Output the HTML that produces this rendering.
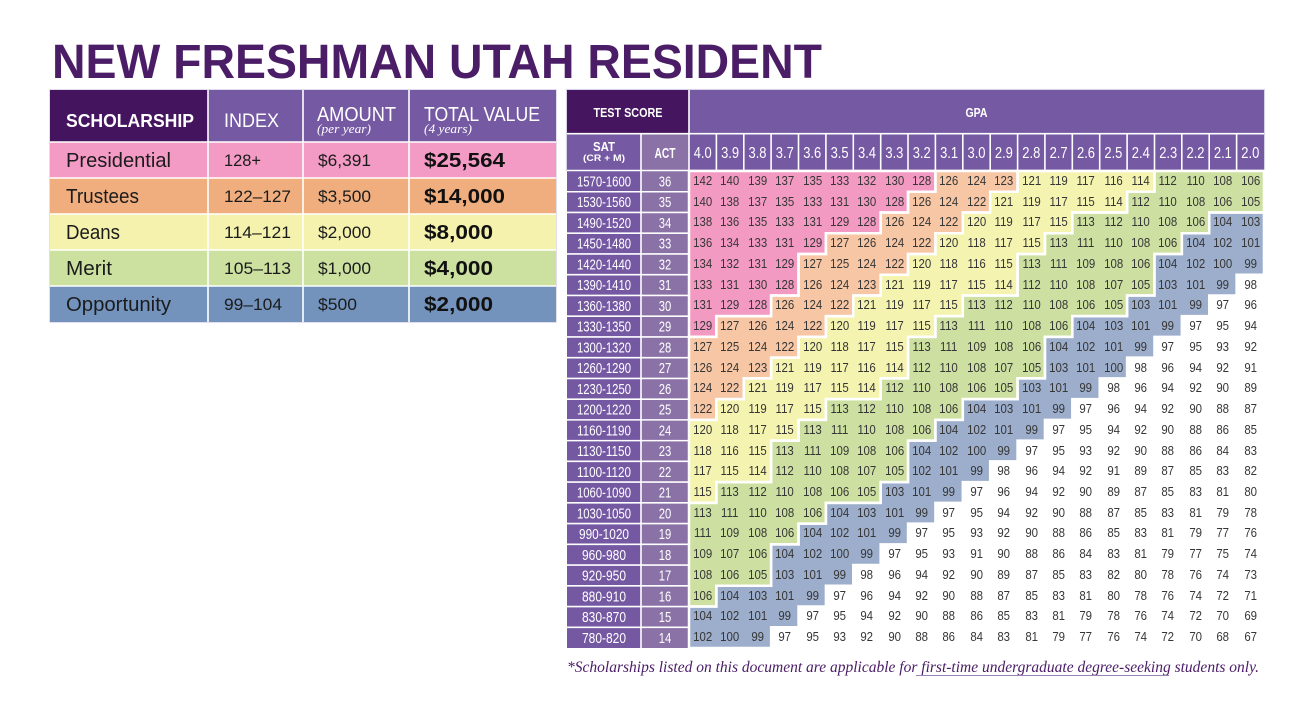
<!DOCTYPE html>
<html><head><meta charset="utf-8">
<style>
html,body{margin:0;padding:0;background:#fff;}
body{width:1313px;height:712px;overflow:hidden;position:relative;}
svg{position:absolute;left:0;top:0;}
.g{position:absolute;left:689px;top:171px;width:575px;display:grid;grid-template-columns:repeat(21,27.38px);grid-auto-rows:20.74px;font-family:"Liberation Sans",sans-serif;font-size:13px;line-height:20.74px;color:#363636;text-align:center;}
.g i{font-style:normal;display:block;transform:scaleX(.88);}
</style></head><body>
<svg width="1313" height="712" viewBox="0 0 1313 712" xmlns="http://www.w3.org/2000/svg">
<!-- Title -->
<text x="52" y="78" font-family="Liberation Sans, sans-serif" font-weight="bold" font-size="48" fill="#4b1d67" textLength="770" lengthAdjust="spacingAndGlyphs">NEW FRESHMAN UTAH RESIDENT</text>

<!-- LEFT TABLE -->
<rect x="50" y="90" width="506" height="232" fill="#fff" stroke="#d8d2e6" stroke-width="1.5"/>
<rect x="50" y="90" width="158" height="52" fill="#45145f"/>
<rect x="208" y="90" width="348" height="52" fill="#7559a3"/>
<rect x="50" y="142" width="506" height="36" fill="#f39bc5"/>
<rect x="50" y="178" width="506" height="36" fill="#f0ae7e"/>
<rect x="50" y="214" width="506" height="36" fill="#f4f2ad"/>
<rect x="50" y="250" width="506" height="36" fill="#cce0a0"/>
<rect x="50" y="286" width="506" height="36" fill="#7393bd"/>
<path d="M208 90V322M303 90V322M409 90V322M50 142H556M50 178H556M50 214H556M50 250H556M50 286H556" stroke="#fff" stroke-width="1.6" fill="none"/>

<g font-family="Liberation Sans, sans-serif" fill="#fff">
<text x="66" y="127" font-weight="bold" font-size="18" textLength="128" lengthAdjust="spacingAndGlyphs">SCHOLARSHIP</text>
<text x="224" y="127" font-size="19" textLength="55" lengthAdjust="spacingAndGlyphs">INDEX</text>
<text x="317" y="121" font-size="20" textLength="79" lengthAdjust="spacingAndGlyphs">AMOUNT</text>
<text x="424" y="121" font-size="20" textLength="116" lengthAdjust="spacingAndGlyphs">TOTAL VALUE</text>
</g>
<g font-family="Liberation Serif, serif" font-style="italic" font-size="12.5" fill="#fff">
<text x="317" y="133" textLength="54" lengthAdjust="spacingAndGlyphs">(per year)</text>
<text x="424" y="133" textLength="48" lengthAdjust="spacingAndGlyphs">(4 years)</text>
</g>

<g font-family="Liberation Sans, sans-serif" fill="#1b1b1b">
<text x="66" y="167" font-size="20" textLength="105" lengthAdjust="spacingAndGlyphs">Presidential</text>
<text x="66" y="203" font-size="20" textLength="73" lengthAdjust="spacingAndGlyphs">Trustees</text>
<text x="66" y="239" font-size="20" textLength="54" lengthAdjust="spacingAndGlyphs">Deans</text>
<text x="66" y="275" font-size="20" textLength="46" lengthAdjust="spacingAndGlyphs">Merit</text>
<text x="66" y="311" font-size="20" textLength="105" lengthAdjust="spacingAndGlyphs">Opportunity</text>

<text x="224" y="166" font-size="16.5" textLength="37" lengthAdjust="spacingAndGlyphs">128+</text>
<text x="224" y="202" font-size="16.5" textLength="67" lengthAdjust="spacingAndGlyphs">122–127</text>
<text x="224" y="238" font-size="16.5" textLength="67" lengthAdjust="spacingAndGlyphs">114–121</text>
<text x="224" y="274" font-size="16.5" textLength="67" lengthAdjust="spacingAndGlyphs">105–113</text>
<text x="224" y="310" font-size="16.5" textLength="58" lengthAdjust="spacingAndGlyphs">99–104</text>

<text x="318" y="166" font-size="16.5" textLength="53" lengthAdjust="spacingAndGlyphs">$6,391</text>
<text x="318" y="202" font-size="16.5" textLength="53" lengthAdjust="spacingAndGlyphs">$3,500</text>
<text x="318" y="238" font-size="16.5" textLength="53" lengthAdjust="spacingAndGlyphs">$2,000</text>
<text x="318" y="274" font-size="16.5" textLength="53" lengthAdjust="spacingAndGlyphs">$1,000</text>
<text x="318" y="310" font-size="16.5" textLength="39" lengthAdjust="spacingAndGlyphs">$500</text>

<text x="424" y="167" font-size="20" font-weight="bold" fill="#111" textLength="81" lengthAdjust="spacingAndGlyphs">$25,564</text>
<text x="424" y="203" font-size="20" font-weight="bold" fill="#111" textLength="81" lengthAdjust="spacingAndGlyphs">$14,000</text>
<text x="424" y="239" font-size="20" font-weight="bold" fill="#111" textLength="69" lengthAdjust="spacingAndGlyphs">$8,000</text>
<text x="424" y="275" font-size="20" font-weight="bold" fill="#111" textLength="69" lengthAdjust="spacingAndGlyphs">$4,000</text>
<text x="424" y="311" font-size="20" font-weight="bold" fill="#111" textLength="69" lengthAdjust="spacingAndGlyphs">$2,000</text>
</g>

<!-- RIGHT TABLE HEADERS -->
<rect x="566.5" y="89.5" width="698" height="81" fill="none" stroke="#d8d2e6" stroke-width="1.2"/>
<rect x="567" y="90" width="122" height="43.5" fill="#46155f"/>
<rect x="689" y="90" width="575" height="43.5" fill="#7559a3"/>
<rect x="567" y="133.5" width="74" height="37" fill="#7559a3"/>
<rect x="641" y="133.5" width="48" height="37" fill="#8a71a6"/>
<rect x="689" y="133.5" width="575" height="37" fill="#7559a3"/>
<!-- SAT / ACT body columns -->
<rect x="567" y="171" width="74" height="477" fill="#7458a2"/>
<rect x="641" y="171" width="48" height="477" fill="#8a71a6"/>
<path d="M567 133.7H1264M567 170.5H1264M689 90V170.5M641 133.5V648M716.4 133.5V170.5M743.8 133.5V170.5M771.1 133.5V170.5M798.5 133.5V170.5M825.9 133.5V170.5M853.3 133.5V170.5M880.7 133.5V170.5M908 133.5V170.5M935.4 133.5V170.5M962.8 133.5V170.5M990.2 133.5V170.5M1017.6 133.5V170.5M1044.9 133.5V170.5M1072.3 133.5V170.5M1099.7 133.5V170.5M1127.1 133.5V170.5M1154.5 133.5V170.5M1181.8 133.5V170.5M1209.2 133.5V170.5M1236.6 133.5V170.5" stroke="#fff" stroke-width="1.6" fill="none"/>
<path d="M567 191.74H689M567 212.48H689M567 233.22H689M567 253.96H689M567 274.7H689M567 295.44H689M567 316.18H689M567 336.92H689M567 357.66H689M567 378.4H689M567 399.14H689M567 419.88H689M567 440.62H689M567 461.36H689M567 482.1H689M567 502.84H689M567 523.58H689M567 544.32H689M567 565.06H689M567 585.8H689M567 606.54H689M567 627.28H689" stroke="#fff" stroke-width="1.6" fill="none"/>

<g font-family="Liberation Sans Narrow, Liberation Sans, sans-serif" fill="#fff" font-weight="bold" text-anchor="middle">
<text x="628" y="117" font-size="13" textLength="69" lengthAdjust="spacingAndGlyphs">TEST SCORE</text>
<text x="976.5" y="117" font-size="13" textLength="22" lengthAdjust="spacingAndGlyphs">GPA</text>
<text x="604" y="151" font-size="13" textLength="22" lengthAdjust="spacingAndGlyphs">SAT</text>
<text x="604" y="161" font-size="9.5" textLength="42" lengthAdjust="spacingAndGlyphs">(CR + M)</text>
<text x="665" y="158" font-size="14.5" textLength="21" lengthAdjust="spacingAndGlyphs">ACT</text>
</g>
<g font-family="Liberation Sans, sans-serif" fill="#fff" font-size="16" text-anchor="middle">
<text x="702.7" y="158" textLength="18" lengthAdjust="spacingAndGlyphs">4.0</text>
<text x="730.1" y="158" textLength="18" lengthAdjust="spacingAndGlyphs">3.9</text>
<text x="757.5" y="158" textLength="18" lengthAdjust="spacingAndGlyphs">3.8</text>
<text x="784.8" y="158" textLength="18" lengthAdjust="spacingAndGlyphs">3.7</text>
<text x="812.2" y="158" textLength="18" lengthAdjust="spacingAndGlyphs">3.6</text>
<text x="839.6" y="158" textLength="18" lengthAdjust="spacingAndGlyphs">3.5</text>
<text x="867" y="158" textLength="18" lengthAdjust="spacingAndGlyphs">3.4</text>
<text x="894.4" y="158" textLength="18" lengthAdjust="spacingAndGlyphs">3.3</text>
<text x="921.7" y="158" textLength="18" lengthAdjust="spacingAndGlyphs">3.2</text>
<text x="949.1" y="158" textLength="18" lengthAdjust="spacingAndGlyphs">3.1</text>
<text x="976.5" y="158" textLength="18" lengthAdjust="spacingAndGlyphs">3.0</text>
<text x="1003.9" y="158" textLength="18" lengthAdjust="spacingAndGlyphs">2.9</text>
<text x="1031.3" y="158" textLength="18" lengthAdjust="spacingAndGlyphs">2.8</text>
<text x="1058.6" y="158" textLength="18" lengthAdjust="spacingAndGlyphs">2.7</text>
<text x="1086" y="158" textLength="18" lengthAdjust="spacingAndGlyphs">2.6</text>
<text x="1113.4" y="158" textLength="18" lengthAdjust="spacingAndGlyphs">2.5</text>
<text x="1140.8" y="158" textLength="18" lengthAdjust="spacingAndGlyphs">2.4</text>
<text x="1168.2" y="158" textLength="18" lengthAdjust="spacingAndGlyphs">2.3</text>
<text x="1195.5" y="158" textLength="18" lengthAdjust="spacingAndGlyphs">2.2</text>
<text x="1222.9" y="158" textLength="18" lengthAdjust="spacingAndGlyphs">2.1</text>
<text x="1250.3" y="158" textLength="18" lengthAdjust="spacingAndGlyphs">2.0</text>
</g>

<!-- SAT labels -->
<g font-family="Liberation Sans Narrow, Liberation Sans, sans-serif" fill="#fff" font-size="14.5" text-anchor="middle">
<text x="604" y="186.5" textLength="54" lengthAdjust="spacingAndGlyphs">1570-1600</text>
<text x="604" y="207.2" textLength="54" lengthAdjust="spacingAndGlyphs">1530-1560</text>
<text x="604" y="228" textLength="54" lengthAdjust="spacingAndGlyphs">1490-1520</text>
<text x="604" y="248.7" textLength="54" lengthAdjust="spacingAndGlyphs">1450-1480</text>
<text x="604" y="269.5" textLength="54" lengthAdjust="spacingAndGlyphs">1420-1440</text>
<text x="604" y="290.2" textLength="54" lengthAdjust="spacingAndGlyphs">1390-1410</text>
<text x="604" y="310.9" textLength="54" lengthAdjust="spacingAndGlyphs">1360-1380</text>
<text x="604" y="331.7" textLength="54" lengthAdjust="spacingAndGlyphs">1330-1350</text>
<text x="604" y="352.4" textLength="54" lengthAdjust="spacingAndGlyphs">1300-1320</text>
<text x="604" y="373.2" textLength="54" lengthAdjust="spacingAndGlyphs">1260-1290</text>
<text x="604" y="393.9" textLength="54" lengthAdjust="spacingAndGlyphs">1230-1250</text>
<text x="604" y="414.6" textLength="54" lengthAdjust="spacingAndGlyphs">1200-1220</text>
<text x="604" y="435.4" textLength="54" lengthAdjust="spacingAndGlyphs">1160-1190</text>
<text x="604" y="456.1" textLength="54" lengthAdjust="spacingAndGlyphs">1130-1150</text>
<text x="604" y="476.9" textLength="54" lengthAdjust="spacingAndGlyphs">1100-1120</text>
<text x="604" y="497.6" textLength="54" lengthAdjust="spacingAndGlyphs">1060-1090</text>
<text x="604" y="518.3" textLength="54" lengthAdjust="spacingAndGlyphs">1030-1050</text>
<text x="604" y="539.1" textLength="50" lengthAdjust="spacingAndGlyphs">990-1020</text>
<text x="604" y="559.8" textLength="44" lengthAdjust="spacingAndGlyphs">960-980</text>
<text x="604" y="580.6" textLength="44" lengthAdjust="spacingAndGlyphs">920-950</text>
<text x="604" y="601.3" textLength="44" lengthAdjust="spacingAndGlyphs">880-910</text>
<text x="604" y="622" textLength="44" lengthAdjust="spacingAndGlyphs">830-870</text>
<text x="604" y="642.8" textLength="44" lengthAdjust="spacingAndGlyphs">780-820</text>
</g>
<g font-family="Liberation Sans Narrow, Liberation Sans, sans-serif" fill="#fff" font-size="15" text-anchor="middle">
<text x="665" y="186.5" textLength="12.5" lengthAdjust="spacingAndGlyphs">36</text>
<text x="665" y="207.2" textLength="12.5" lengthAdjust="spacingAndGlyphs">35</text>
<text x="665" y="228" textLength="12.5" lengthAdjust="spacingAndGlyphs">34</text>
<text x="665" y="248.7" textLength="12.5" lengthAdjust="spacingAndGlyphs">33</text>
<text x="665" y="269.5" textLength="12.5" lengthAdjust="spacingAndGlyphs">32</text>
<text x="665" y="290.2" textLength="12.5" lengthAdjust="spacingAndGlyphs">31</text>
<text x="665" y="310.9" textLength="12.5" lengthAdjust="spacingAndGlyphs">30</text>
<text x="665" y="331.7" textLength="12.5" lengthAdjust="spacingAndGlyphs">29</text>
<text x="665" y="352.4" textLength="12.5" lengthAdjust="spacingAndGlyphs">28</text>
<text x="665" y="373.2" textLength="12.5" lengthAdjust="spacingAndGlyphs">27</text>
<text x="665" y="393.9" textLength="12.5" lengthAdjust="spacingAndGlyphs">26</text>
<text x="665" y="414.6" textLength="12.5" lengthAdjust="spacingAndGlyphs">25</text>
<text x="665" y="435.4" textLength="12.5" lengthAdjust="spacingAndGlyphs">24</text>
<text x="665" y="456.1" textLength="12.5" lengthAdjust="spacingAndGlyphs">23</text>
<text x="665" y="476.9" textLength="12.5" lengthAdjust="spacingAndGlyphs">22</text>
<text x="665" y="497.6" textLength="12.5" lengthAdjust="spacingAndGlyphs">21</text>
<text x="665" y="518.3" textLength="12.5" lengthAdjust="spacingAndGlyphs">20</text>
<text x="665" y="539.1" textLength="12.5" lengthAdjust="spacingAndGlyphs">19</text>
<text x="665" y="559.8" textLength="12.5" lengthAdjust="spacingAndGlyphs">18</text>
<text x="665" y="580.6" textLength="12.5" lengthAdjust="spacingAndGlyphs">17</text>
<text x="665" y="601.3" textLength="12.5" lengthAdjust="spacingAndGlyphs">16</text>
<text x="665" y="622" textLength="12.5" lengthAdjust="spacingAndGlyphs">15</text>
<text x="665" y="642.8" textLength="12.5" lengthAdjust="spacingAndGlyphs">14</text>
</g>

<!-- DATA COLOR REGIONS -->
<g transform="translate(689 171) scale(27.38 20.74)">
<polygon fill="#f39ac3" points="0,0 9,0 9,1 8,1 8,2 7,2 7,3 5,3 5,4 4,4 4,6 3,6 3,7 1,7 1,8 0,8"/>
<polygon fill="#f7c6a4" points="9,0 12,0 12,1 11,1 11,2 10,2 10,3 9,3 9,4 8,4 8,5 7,5 7,6 6,6 6,7 5,7 5,8 4,8 4,9 3,9 3,10 2,10 2,11 1,11 1,12 0,12 0,8 1,8 1,7 3,7 3,6 4,6 4,4 5,4 5,3 7,3 7,2 8,2 8,1 9,1"/>
<polygon fill="#f4f3b0" points="12,0 17,0 17,1 16,1 16,2 14,2 14,3 13,3 13,4 12,4 12,6 10,6 10,7 9,7 9,8 8,8 8,10 7,10 7,11 5,11 5,12 4,12 4,13 3,13 3,15 1,15 1,16 0,16 0,12 1,12 1,11 2,11 2,10 3,10 3,9 4,9 4,8 5,8 5,7 6,7 6,6 7,6 7,5 8,5 8,4 9,4 9,3 10,3 10,2 11,2 11,1 12,1"/>
<polygon fill="#cde0a1" points="17,0 21,0 21,2 19,2 19,3 18,3 18,4 17,4 17,6 16,6 16,7 14,7 14,8 13,8 13,10 12,10 12,11 10,11 10,12 9,12 9,13 8,13 8,15 7,15 7,16 5,16 5,17 4,17 4,18 3,18 3,20 1,20 1,21 0,21 0,16 1,16 1,15 3,15 3,13 4,13 4,12 5,12 5,11 7,11 7,10 8,10 8,8 9,8 9,7 10,7 10,6 12,6 12,4 13,4 13,3 14,3 14,2 16,2 16,1 17,1"/>
<polygon fill="#9caecb" points="19,2 21,2 21,5 20,5 20,6 19,6 19,7 18,7 18,8 17,8 17,9 16,9 16,10 15,10 15,11 14,11 14,12 13,12 13,13 12,13 12,14 11,14 11,15 10,15 10,16 9,16 9,17 8,17 8,18 7,18 7,19 6,19 6,20 5,20 5,21 4,21 4,22 3,22 3,23 0,23 0,21 1,21 1,20 3,20 3,18 4,18 4,17 5,17 5,16 7,16 7,15 8,15 8,13 9,13 9,12 10,12 10,11 12,11 12,10 13,10 13,8 14,8 14,7 16,7 16,6 17,6 17,4 18,4 18,3 19,3"/>
<g fill="none" stroke="#fff" stroke-width="2.5" vector-effect="non-scaling-stroke">
<polygon vector-effect="non-scaling-stroke" points="0,0 9,0 9,1 8,1 8,2 7,2 7,3 5,3 5,4 4,4 4,6 3,6 3,7 1,7 1,8 0,8"/>
<polygon vector-effect="non-scaling-stroke" points="9,0 12,0 12,1 11,1 11,2 10,2 10,3 9,3 9,4 8,4 8,5 7,5 7,6 6,6 6,7 5,7 5,8 4,8 4,9 3,9 3,10 2,10 2,11 1,11 1,12 0,12 0,8 1,8 1,7 3,7 3,6 4,6 4,4 5,4 5,3 7,3 7,2 8,2 8,1 9,1"/>
<polygon vector-effect="non-scaling-stroke" points="12,0 17,0 17,1 16,1 16,2 14,2 14,3 13,3 13,4 12,4 12,6 10,6 10,7 9,7 9,8 8,8 8,10 7,10 7,11 5,11 5,12 4,12 4,13 3,13 3,15 1,15 1,16 0,16 0,12 1,12 1,11 2,11 2,10 3,10 3,9 4,9 4,8 5,8 5,7 6,7 6,6 7,6 7,5 8,5 8,4 9,4 9,3 10,3 10,2 11,2 11,1 12,1"/>
<polygon vector-effect="non-scaling-stroke" points="17,0 21,0 21,2 19,2 19,3 18,3 18,4 17,4 17,6 16,6 16,7 14,7 14,8 13,8 13,10 12,10 12,11 10,11 10,12 9,12 9,13 8,13 8,15 7,15 7,16 5,16 5,17 4,17 4,18 3,18 3,20 1,20 1,21 0,21 0,16 1,16 1,15 3,15 3,13 4,13 4,12 5,12 5,11 7,11 7,10 8,10 8,8 9,8 9,7 10,7 10,6 12,6 12,4 13,4 13,3 14,3 14,2 16,2 16,1 17,1"/>
<polygon vector-effect="non-scaling-stroke" points="19,2 21,2 21,5 20,5 20,6 19,6 19,7 18,7 18,8 17,8 17,9 16,9 16,10 15,10 15,11 14,11 14,12 13,12 13,13 12,13 12,14 11,14 11,15 10,15 10,16 9,16 9,17 8,17 8,18 7,18 7,19 6,19 6,20 5,20 5,21 4,21 4,22 3,22 3,23 0,23 0,21 1,21 1,20 3,20 3,18 4,18 4,17 5,17 5,16 7,16 7,15 8,15 8,13 9,13 9,12 10,12 10,11 12,11 12,10 13,10 13,8 14,8 14,7 16,7 16,6 17,6 17,4 18,4 18,3 19,3"/>
</g>
</g>

<!-- Footnote -->
<text x="567" y="672" font-family="Liberation Serif, serif" font-style="italic" font-size="16" fill="#4a1c66" textLength="692" lengthAdjust="spacingAndGlyphs">*Scholarships listed on this document are applicable for first-time undergraduate degree-seeking students only.</text>
<line x1="916" y1="675.5" x2="1169" y2="675.5" stroke="#9883b4" stroke-width="1"/>
</svg>

<div class="g">
<i>142</i><i>140</i><i>139</i><i>137</i><i>135</i><i>133</i><i>132</i><i>130</i><i>128</i><i>126</i><i>124</i><i>123</i><i>121</i><i>119</i><i>117</i><i>116</i><i>114</i><i>112</i><i>110</i><i>108</i><i>106</i>
<i>140</i><i>138</i><i>137</i><i>135</i><i>133</i><i>131</i><i>130</i><i>128</i><i>126</i><i>124</i><i>122</i><i>121</i><i>119</i><i>117</i><i>115</i><i>114</i><i>112</i><i>110</i><i>108</i><i>106</i><i>105</i>
<i>138</i><i>136</i><i>135</i><i>133</i><i>131</i><i>129</i><i>128</i><i>126</i><i>124</i><i>122</i><i>120</i><i>119</i><i>117</i><i>115</i><i>113</i><i>112</i><i>110</i><i>108</i><i>106</i><i>104</i><i>103</i>
<i>136</i><i>134</i><i>133</i><i>131</i><i>129</i><i>127</i><i>126</i><i>124</i><i>122</i><i>120</i><i>118</i><i>117</i><i>115</i><i>113</i><i>111</i><i>110</i><i>108</i><i>106</i><i>104</i><i>102</i><i>101</i>
<i>134</i><i>132</i><i>131</i><i>129</i><i>127</i><i>125</i><i>124</i><i>122</i><i>120</i><i>118</i><i>116</i><i>115</i><i>113</i><i>111</i><i>109</i><i>108</i><i>106</i><i>104</i><i>102</i><i>100</i><i>99</i>
<i>133</i><i>131</i><i>130</i><i>128</i><i>126</i><i>124</i><i>123</i><i>121</i><i>119</i><i>117</i><i>115</i><i>114</i><i>112</i><i>110</i><i>108</i><i>107</i><i>105</i><i>103</i><i>101</i><i>99</i><i>98</i>
<i>131</i><i>129</i><i>128</i><i>126</i><i>124</i><i>122</i><i>121</i><i>119</i><i>117</i><i>115</i><i>113</i><i>112</i><i>110</i><i>108</i><i>106</i><i>105</i><i>103</i><i>101</i><i>99</i><i>97</i><i>96</i>
<i>129</i><i>127</i><i>126</i><i>124</i><i>122</i><i>120</i><i>119</i><i>117</i><i>115</i><i>113</i><i>111</i><i>110</i><i>108</i><i>106</i><i>104</i><i>103</i><i>101</i><i>99</i><i>97</i><i>95</i><i>94</i>
<i>127</i><i>125</i><i>124</i><i>122</i><i>120</i><i>118</i><i>117</i><i>115</i><i>113</i><i>111</i><i>109</i><i>108</i><i>106</i><i>104</i><i>102</i><i>101</i><i>99</i><i>97</i><i>95</i><i>93</i><i>92</i>
<i>126</i><i>124</i><i>123</i><i>121</i><i>119</i><i>117</i><i>116</i><i>114</i><i>112</i><i>110</i><i>108</i><i>107</i><i>105</i><i>103</i><i>101</i><i>100</i><i>98</i><i>96</i><i>94</i><i>92</i><i>91</i>
<i>124</i><i>122</i><i>121</i><i>119</i><i>117</i><i>115</i><i>114</i><i>112</i><i>110</i><i>108</i><i>106</i><i>105</i><i>103</i><i>101</i><i>99</i><i>98</i><i>96</i><i>94</i><i>92</i><i>90</i><i>89</i>
<i>122</i><i>120</i><i>119</i><i>117</i><i>115</i><i>113</i><i>112</i><i>110</i><i>108</i><i>106</i><i>104</i><i>103</i><i>101</i><i>99</i><i>97</i><i>96</i><i>94</i><i>92</i><i>90</i><i>88</i><i>87</i>
<i>120</i><i>118</i><i>117</i><i>115</i><i>113</i><i>111</i><i>110</i><i>108</i><i>106</i><i>104</i><i>102</i><i>101</i><i>99</i><i>97</i><i>95</i><i>94</i><i>92</i><i>90</i><i>88</i><i>86</i><i>85</i>
<i>118</i><i>116</i><i>115</i><i>113</i><i>111</i><i>109</i><i>108</i><i>106</i><i>104</i><i>102</i><i>100</i><i>99</i><i>97</i><i>95</i><i>93</i><i>92</i><i>90</i><i>88</i><i>86</i><i>84</i><i>83</i>
<i>117</i><i>115</i><i>114</i><i>112</i><i>110</i><i>108</i><i>107</i><i>105</i><i>102</i><i>101</i><i>99</i><i>98</i><i>96</i><i>94</i><i>92</i><i>91</i><i>89</i><i>87</i><i>85</i><i>83</i><i>82</i>
<i>115</i><i>113</i><i>112</i><i>110</i><i>108</i><i>106</i><i>105</i><i>103</i><i>101</i><i>99</i><i>97</i><i>96</i><i>94</i><i>92</i><i>90</i><i>89</i><i>87</i><i>85</i><i>83</i><i>81</i><i>80</i>
<i>113</i><i>111</i><i>110</i><i>108</i><i>106</i><i>104</i><i>103</i><i>101</i><i>99</i><i>97</i><i>95</i><i>94</i><i>92</i><i>90</i><i>88</i><i>87</i><i>85</i><i>83</i><i>81</i><i>79</i><i>78</i>
<i>111</i><i>109</i><i>108</i><i>106</i><i>104</i><i>102</i><i>101</i><i>99</i><i>97</i><i>95</i><i>93</i><i>92</i><i>90</i><i>88</i><i>86</i><i>85</i><i>83</i><i>81</i><i>79</i><i>77</i><i>76</i>
<i>109</i><i>107</i><i>106</i><i>104</i><i>102</i><i>100</i><i>99</i><i>97</i><i>95</i><i>93</i><i>91</i><i>90</i><i>88</i><i>86</i><i>84</i><i>83</i><i>81</i><i>79</i><i>77</i><i>75</i><i>74</i>
<i>108</i><i>106</i><i>105</i><i>103</i><i>101</i><i>99</i><i>98</i><i>96</i><i>94</i><i>92</i><i>90</i><i>89</i><i>87</i><i>85</i><i>83</i><i>82</i><i>80</i><i>78</i><i>76</i><i>74</i><i>73</i>
<i>106</i><i>104</i><i>103</i><i>101</i><i>99</i><i>97</i><i>96</i><i>94</i><i>92</i><i>90</i><i>88</i><i>87</i><i>85</i><i>83</i><i>81</i><i>80</i><i>78</i><i>76</i><i>74</i><i>72</i><i>71</i>
<i>104</i><i>102</i><i>101</i><i>99</i><i>97</i><i>95</i><i>94</i><i>92</i><i>90</i><i>88</i><i>86</i><i>85</i><i>83</i><i>81</i><i>79</i><i>78</i><i>76</i><i>74</i><i>72</i><i>70</i><i>69</i>
<i>102</i><i>100</i><i>99</i><i>97</i><i>95</i><i>93</i><i>92</i><i>90</i><i>88</i><i>86</i><i>84</i><i>83</i><i>81</i><i>79</i><i>77</i><i>76</i><i>74</i><i>72</i><i>70</i><i>68</i><i>67</i>
</div>
</body></html>
